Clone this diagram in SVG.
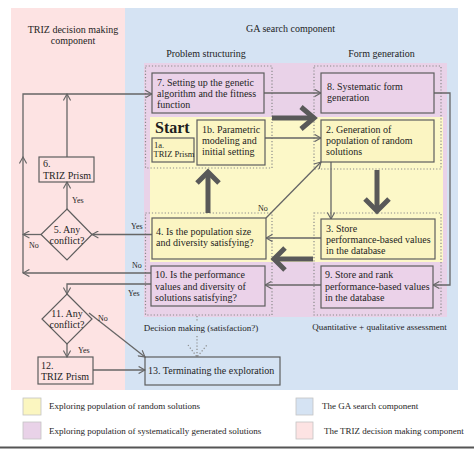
<svg xmlns="http://www.w3.org/2000/svg" width="474" height="449" viewBox="0 0 474 449">
<defs>
<marker id="ah" viewBox="0 0 10 10" refX="9" refY="5" markerWidth="8" markerHeight="8" markerUnits="userSpaceOnUse" orient="auto">
<path d="M1,0.5 L9,5 L1,9.5" fill="none" stroke="#666" stroke-width="1.4"/>
</marker>
<style>
.bx{stroke:#5e5e5e;stroke-width:1.2}
.yb{fill:#fbf5c2}
.pb{fill:#ebd2e9}
.ob{fill:none}
.t{font-family:"Liberation Serif","Times New Roman",serif;font-size:10px;fill:#1e1e1e}
.s{font-size:8px}
.m{text-anchor:middle}
.c{fill:none;stroke:#666;stroke-width:1.3;marker-end:url(#ah)}
.th{fill:none;stroke:#595959;stroke-width:5}
.dot{fill:none;stroke:#8a8a8a;stroke-width:1.2;stroke-dasharray:1.2 2}
.lg{stroke:#c4c4c4;stroke-width:0.8}
</style>
</defs>
<rect width="474" height="449" fill="#ffffff"/>
<g id="regions">
<rect x="11" y="8" width="114" height="382" fill="#fde3e3"/>
<rect x="125" y="8" width="333" height="382" fill="#d5e3f3"/>
<rect x="144" y="63" width="303" height="254" fill="#e9d2e8"/>
<rect x="150" y="117" width="293" height="145" fill="#fcf8c8"/>
<rect class="dot" x="145.5" y="66" width="126.5" height="102"/>
<rect class="dot" x="145.5" y="213" width="126.5" height="102"/>
<rect class="dot" x="314" y="66" width="127" height="103"/>
<rect class="dot" x="314" y="213" width="127" height="102"/>
</g>
<g id="headers" class="t">
<text class="t m" x="73" y="32.5">TRIZ decision making</text>
<text class="t m" x="73" y="43.5">component</text>
<text class="t m" x="290.5" y="31.5">GA search component</text>
<text class="t m" x="206" y="56.5">Problem structuring</text>
<text class="t m" x="381.5" y="56.5">Form generation</text>
<text class="t m" x="201" y="331" style="font-size:9px">Decision making (satisfaction?)</text>
<text class="t m" x="379.5" y="330" style="font-size:9px">Quantitative + qualitative assessment</text>
</g>
<g id="connectors">
<path class="c" d="M151,273 H23"/>
<path class="c" d="M23,273 V157"/>
<path class="c" d="M23,157 V94 H152"/>
<path class="c" d="M67,157 V94"/>
<path class="c" d="M67,209 V182"/>
<path class="c" d="M41,234.5 H23"/>
<path class="c" d="M152,234.5 H92"/>
<path class="c" d="M151,284 H67 V294"/>
<path class="c" d="M89,313 L145,357"/>
<path class="c" d="M67,344 V357"/>
<path class="c" d="M93,370 H145"/>
<path class="c" d="M264,93 H321"/>
<path class="c" d="M265,138 H321"/>
<path class="c" d="M331,162 V219"/>
<path class="c" d="M321,238 H266"/>
<path class="c" d="M266,218 L321,162"/>
<path class="c" d="M434,93 H450 V285 H433"/>
<path class="c" d="M321,285 H265"/>
<path class="th" d="M272,118 H312"/>
<path class="th" d="M301,107 L314,118 L301,129"/>
<path class="th" d="M377,170 V209"/>
<path class="th" d="M365,199 L377,211 L389,199"/>
<path class="th" d="M313,259 H276"/>
<path class="th" d="M285,248 L274,259 L285,270"/>
<path class="th" d="M208,213 V174"/>
<path class="th" d="M197,183 L208,172 L219,183"/>
<path class="dot" d="M197,316 V322 M197,336 V357 M188,345 L197,357 L207,345"/>
<g class="t s">
<text x="131" y="229">Yes</text>
<text x="132" y="268">No</text>
<text x="128" y="296">Yes</text>
<text x="72" y="203">Yes</text>
<text x="29" y="248">No</text>
<text x="258" y="211">No</text>
<text x="98" y="321">No</text>
<text x="78" y="353">Yes</text>
</g>
</g>
<g id="n7">
<rect class="bx pb" x="152" y="73" width="112" height="40"/>
<text class="t" x="157" y="86">7. Setting up the genetic</text>
<text class="t" x="157" y="97">algorithm and the fitness</text>
<text class="t" x="157" y="108">function</text>
</g>
<g id="start">
<text class="t" x="155" y="133" style="font-size:16px;font-weight:bold">Start</text>
</g>
<g id="n1a">
<rect class="bx yb" x="152" y="138" width="42" height="24"/>
<text class="t" x="154" y="148" style="font-size:8.5px">1a.</text>
<text class="t" x="153.5" y="157" style="font-size:8.5px">TRIZ Prism</text>
</g>
<g id="n1b">
<rect class="bx yb" x="197" y="120" width="68" height="45"/>
<text class="t" x="202" y="133">1b. Parametric</text>
<text class="t" x="202" y="144">modeling and</text>
<text class="t" x="202" y="155">initial setting</text>
</g>
<g id="n8">
<rect class="bx pb" x="321" y="73" width="113" height="40"/>
<text class="t" x="327" y="90">8. Systematic form</text>
<text class="t" x="327" y="101">generation</text>
</g>
<g id="n2">
<rect class="bx yb" x="321" y="120" width="113" height="42"/>
<text class="t" x="326" y="133">2. Generation of</text>
<text class="t" x="326" y="144">population of random</text>
<text class="t" x="326" y="155">solutions</text>
</g>
<g id="n3">
<rect class="bx yb" x="321" y="219" width="114" height="40"/>
<text class="t" x="326" y="232">3. Store</text>
<text class="t" x="326" y="243">performance-based values</text>
<text class="t" x="326" y="254">in the database</text>
</g>
<g id="n9">
<rect class="bx pb" x="321" y="266" width="112" height="42"/>
<text class="t" x="325" y="278">9. Store and rank</text>
<text class="t" x="325" y="290">performance-based values</text>
<text class="t" x="325" y="301">in the database</text>
</g>
<g id="n4">
<rect class="bx yb" x="152" y="218" width="114" height="41"/>
<text class="t" x="156" y="235">4. Is the population size</text>
<text class="t" x="156" y="246">and diversity satisfying?</text>
</g>
<g id="n10">
<rect class="bx pb" x="151" y="266" width="114" height="40"/>
<text class="t" x="155" y="278">10. Is the performance</text>
<text class="t" x="155" y="290">values and diversity of</text>
<text class="t" x="155" y="301">solutions satisfying?</text>
</g>
<g id="n6">
<rect class="bx ob" x="39" y="157" width="55" height="25"/>
<text class="t" x="43" y="167">6.</text>
<text class="t" x="43" y="179">TRIZ Prism</text>
</g>
<g id="n5">
<polygon class="bx" fill="#fde3e3" points="67,209 92,234.5 67,260 41,234.5"/>
<text class="t m" x="67" y="232.5">5. Any</text>
<text class="t m" x="67" y="243.5">conflict?</text>
</g>
<g id="n11">
<polygon class="bx" fill="#fde3e3" points="67,294 92,319 67,344 42,319"/>
<text class="t m" x="67" y="317">11. Any</text>
<text class="t m" x="67" y="328">conflict?</text>
</g>
<g id="n12">
<rect class="bx ob" x="38" y="357" width="55" height="27"/>
<text class="t" x="41" y="369">12.</text>
<text class="t" x="41" y="380">TRIZ Prism</text>
</g>
<g id="n13">
<rect class="bx ob" x="145" y="357" width="135" height="28"/>
<text class="t" x="148" y="374">13. Terminating the exploration</text>
</g>
<g id="legend">
<rect class="lg" x="23" y="398" width="18" height="17" fill="#fbf6c0"/>
<text class="t" x="49" y="409" style="font-size:9px">Exploring population of random solutions</text>
<rect class="lg" x="23" y="422" width="18" height="17" fill="#e9d2e8"/>
<text class="t" x="49" y="434" style="font-size:9px">Exploring population of systematically generated solutions</text>
<rect class="lg" x="296" y="398" width="17" height="17" fill="#d5e3f3"/>
<text class="t" x="322" y="409" style="font-size:9px">The GA search component</text>
<rect class="lg" x="296" y="422" width="17" height="17" fill="#fde3e3"/>
<text class="t" x="324" y="434" style="font-size:9px">The TRIZ decision making component</text>
<path d="M0,447.5 H474" stroke="#555" stroke-width="2"/>
</g>
</svg>
